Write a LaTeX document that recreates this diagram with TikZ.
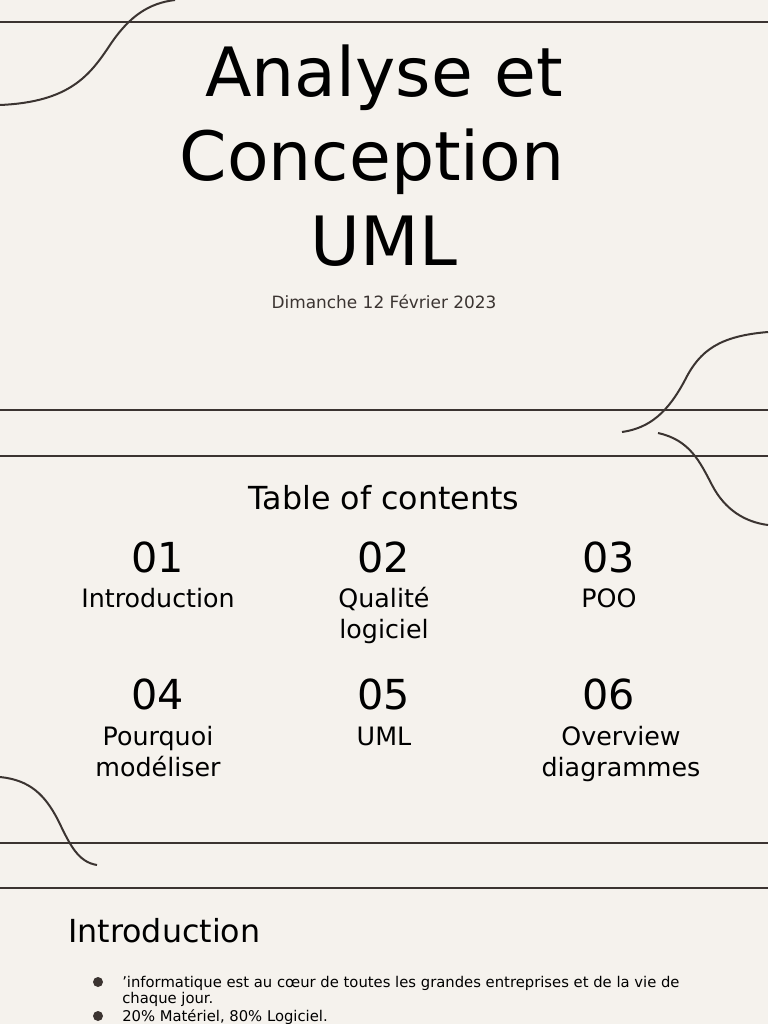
\documentclass[tikz,border=0pt]{standalone}
\usepackage{fontspec}
\setmainfont{DejaVu Sans}
\definecolor{bg}{HTML}{F5F2ED}
\definecolor{ink}{HTML}{3B3431}
\begin{document}
\begin{tikzpicture}[x=0.75pt,y=-0.75pt,
  thinl/.style={draw=ink,line width=1.3pt},
  thickl/.style={draw=ink,line width=1.7pt},
  curve/.style={draw=ink,line width=1.5pt},
  txt/.style={anchor=base,inner sep=0pt,text=black},
  num/.style={txt,font=\fontsize{31}{36}\selectfont},
  lab/.style={txt,font=\fontsize{19}{23}\selectfont}]
\fill[bg] (0,0) rectangle (768,1024);
\useasboundingbox (0,0) rectangle (768,1024);
% lines
\coordinate (l1a) at (0,22); \coordinate (l1b) at (768,22);
\draw[thinl] (l1a) -- (l1b);
\coordinate (l2a) at (0,410); \coordinate (l2b) at (768,410);
\draw[thickl] (l2a) -- (l2b);
\coordinate (l3a) at (0,456); \coordinate (l3b) at (768,456);
\draw[thinl] (l3a) -- (l3b);
\coordinate (l4a) at (0,843); \coordinate (l4b) at (768,843);
\draw[thickl] (l4a) -- (l4b);
\coordinate (l5a) at (0,888); \coordinate (l5b) at (768,888);
\draw[thinl] (l5a) -- (l5b);
% curves
\draw[curve] (0,105) .. controls (70,102) and (90,75) .. (110,45) .. controls (130,15) and (150,3) .. (175,0);
\draw[curve] (768,332) .. controls (720,336) and (700,350) .. (685,380) .. controls (668,412) and (650,428) .. (622,432);
\draw[curve] (658,433) .. controls (690,440) and (700,462) .. (712,485) .. controls (725,510) and (745,522) .. (768,525);
\draw[curve] (0,777) .. controls (30,780) and (45,795) .. (58,820) .. controls (70,845) and (78,862) .. (97,865);
% title
\node[txt,font=\fontsize{51}{60}\selectfont] (t1) at (384,97) {Analyse et};
\node[txt,font=\fontsize{51}{60}\selectfont] (t2) at (372,180) {Conception};
\node[txt,font=\fontsize{51}{60}\selectfont] (t3) at (384,265) {UML};
\node[txt,font=\fontsize{12.7}{14}\selectfont,text=ink] (date) at (384,308) {Dimanche 12 Février 2023};
% TOC
\node[txt,font=\fontsize{23.8}{27}\selectfont] (toc) at (384,509) {Table of contents};
\node[num] (n1) at (158,572) {01};
\node[num] (n2) at (384,572) {02};
\node[num] (n3) at (609,572) {03};
\node[lab] (s1) at (158,607) {Introduction};
\node[lab] (s2a) at (384,607) {Qualité};
\node[lab] (s2b) at (384,638) {logiciel};
\node[lab] (s3) at (609,607) {POO};
\node[num] (n4) at (158,709) {04};
\node[num] (n5) at (384,709) {05};
\node[num] (n6) at (609,709) {06};
\node[lab] (s4a) at (158,745) {Pourquoi};
\node[lab] (s4b) at (158,776) {modéliser};
\node[lab] (s5) at (384,745) {UML};
\node[lab] (s6a) at (621,745) {Overview};
\node[lab] (s6b) at (621,776) {diagrammes};
% intro
\node[txt,anchor=base west,font=\fontsize{23.8}{30}\selectfont] (intro) at (68,942) {Introduction};
\fill[ink] (98,982) circle (5);
\fill[ink] (98,1016) circle (5);
\node[txt,anchor=base west,font=\fontsize{11.1}{13}\selectfont] (b1a) at (122,987) {\char"27 informatique est au cœur de toutes les grandes entreprises et de la vie de};
\node[txt,anchor=base west,font=\fontsize{11.1}{13}\selectfont] (b1b) at (122,1003) {chaque jour.};
\node[txt,anchor=base west,font=\fontsize{11.1}{13}\selectfont] (b2) at (122,1021) {20\% Matériel, 80\% Logiciel.};
\end{tikzpicture}
\end{document}
